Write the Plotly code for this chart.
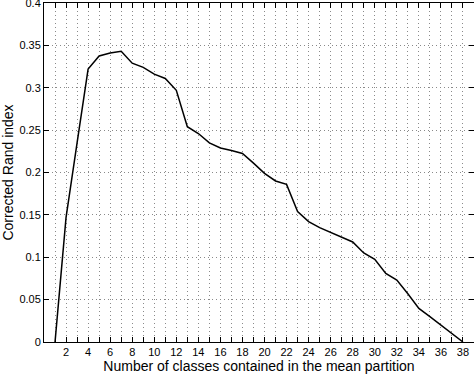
import plotly.graph_objects as go

x_classes = list(range(1, 39))
rand_index = [0.0, 0.147, 0.235, 0.322, 0.3375, 0.341, 0.343, 0.329, 0.324, 0.316,
              0.311, 0.297, 0.254, 0.246, 0.235, 0.229, 0.226, 0.2225, 0.211, 0.199,
              0.190, 0.186, 0.154, 0.142, 0.135, 0.1294, 0.124, 0.118, 0.105, 0.0975,
              0.081, 0.073, 0.057, 0.0397, 0.030, 0.020, 0.010, 0.0]

x_tickvals = list(range(0, 40))
x_ticktext = [str(v) if (v % 2 == 0 and v > 0) else "" for v in x_tickvals]
y_tickvals = [0, 0.05, 0.1, 0.15, 0.2, 0.25, 0.3, 0.35, 0.4]
y_ticktext = ["0", "0.05", "0.1", "0.15", "0.2", "0.25", "0.3", "0.35", "0.4"]

fig = go.Figure()
fig.add_trace(go.Scatter(x=x_classes, y=rand_index, mode="lines",
                         line=dict(color="black", width=1.5), showlegend=False))

font = "Liberation Sans, Arial, sans-serif"
grid = dict(showgrid=True, gridcolor="#8a8a8a", griddash="1px,3px", gridwidth=1)
fig.update_layout(
    width=474, height=374,
    margin=dict(l=44, r=0, t=3, b=32, autoexpand=False),
    paper_bgcolor="white", plot_bgcolor="white",
    font=dict(family=font, color="black", size=11),
    xaxis=dict(range=[0, 39.0], tickmode="array", tickvals=x_tickvals, ticktext=x_ticktext,
               ticks="inside", ticklen=5, tickcolor="black", showline=True, linecolor="black",
               linewidth=1, mirror="ticks", zeroline=False, tickfont=dict(size=11),
               automargin=False, ticklabeloverflow="allow", **grid,
               title=dict(text="Number of classes contained in the mean partition",
                          font=dict(size=14), standoff=4)),
    yaxis=dict(range=[0, 0.4], tickmode="array", tickvals=y_tickvals, ticktext=y_ticktext,
               ticks="inside", ticklen=5, tickcolor="black", showline=True, linecolor="black",
               linewidth=1, mirror="ticks", zeroline=False, tickfont=dict(size=11),
               automargin=False, ticklabeloverflow="allow", **grid,
               title=dict(text="Corrected Rand index", font=dict(size=14), standoff=4)),
)
fig.write_html("out.html", config={"displayModeBar": False},
               post_script="document.body.style.margin='0';document.body.style.overflow='hidden';")
